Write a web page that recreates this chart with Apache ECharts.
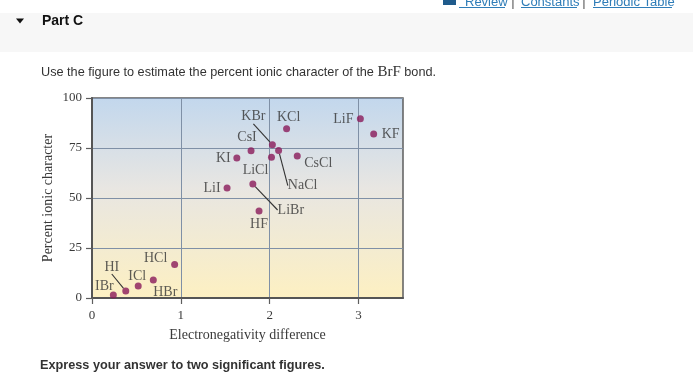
<!DOCTYPE html>
<html>
<head>
<meta charset="utf-8">
<script src="https://cdn.jsdelivr.net/npm/echarts@6/dist/echarts.min.js"></script>
<style>
html,body{margin:0;padding:0;background:#fff;}
#chart{width:700px;height:387px;}
</style>
</head>
<body>
<div id="chart"></div>
<script>
// ---- data ----
const compounds = ['IBr','HI','ICl','HBr','HCl','LiI','KI','CsI','LiBr','HF','LiCl','KBr','NaCl','KCl','CsCl','LiF','KF'];
const enDifference = [0.24,0.38,0.52,0.69,0.93,1.52,1.63,1.79,1.81,1.88,2.02,2.03,2.10,2.19,2.31,3.02,3.17];
const ionicCharacter = [1.5,3.5,6,9,16.7,55,70,73.6,57,43.5,70.4,76.6,73.7,84.6,71,89.6,82];
const xTicks = [0,1,2,3];
const yTicks = [0,25,50,75,100];

// ---- label placement (style) ----
const labelOffsets = {
  IBr:[-9,-9], HI:[-14,-24], ICl:[-1,-10], HBr:[12,12], HCl:[-19,-6],
  LiI:[-15,0], KI:[-13.5,0], CsI:[-4,-13], LiBr:[38,26], HF:[0,13],
  LiCl:[-16,13], KBr:[-19,-28], NaCl:[24,35], KCl:[2,-11], CsCl:[21,7],
  LiF:[-17,1], KF:[17,0]
};
const leaderLabels = ['HI','LiBr','KBr','NaCl'];

const serif = "'Liberation Serif','Times New Roman',serif";
const sans = "'Liberation Sans',Arial,Helvetica,sans-serif";

const seriesData = compounds.map((n,i)=>({
  name:n,
  value:[enDifference[i], ionicCharacter[i]],
  labelLine:{show: leaderLabels.indexOf(n) >= 0}
}));

const chart = echarts.init(document.getElementById('chart'), null, {renderer:'canvas'});
chart.setOption({
  animation:false,
  backgroundColor:'#ffffff',
  grid:{
    left:92, top:98, width:311, height:200,
    show:true,
    borderColor:'#5e5e5e', borderWidth:1.5,
    backgroundColor:{
      type:'linear', x:0, y:0, x2:0, y2:1,
      colorStops:[
        {offset:0, color:'#c2d7ed'},
        {offset:0.45, color:'#e8e6e2'},
        {offset:1, color:'#fdf0c2'}
      ]
    }
  },
  xAxis:{
    type:'value', min:0, max:3.5, interval:1,
    name:'Electronegativity difference',
    nameLocation:'middle', nameGap:30,
    nameTextStyle:{fontFamily:serif, fontSize:14, color:'#3a3a3a'},
    axisLine:{show:true, onZero:false, lineStyle:{color:'#555', width:2}},
    axisTick:{show:true, length:6, customValues:xTicks, lineStyle:{color:'#5e5e5e', width:1.2}},
    axisLabel:{customValues:xTicks, fontFamily:serif, fontSize:13, color:'#3a3a3a', margin:11},
    splitLine:{show:true, lineStyle:{color:'#7f90a6', width:1}}
  },
  yAxis:{
    type:'value', min:0, max:100, interval:25,
    name:'Percent ionic character',
    nameLocation:'middle', nameGap:37, nameRotate:90,
    nameTextStyle:{fontFamily:serif, fontSize:14, color:'#3a3a3a'},
    axisLine:{show:true, onZero:false, lineStyle:{color:'#555', width:2}},
    axisTick:{show:true, length:6, lineStyle:{color:'#5e5e5e', width:1.2}},
    axisLabel:{fontFamily:serif, fontSize:13, color:'#3a3a3a', margin:10},
    splitLine:{show:true, lineStyle:{color:'#7f90a6', width:1}}
  },
  series:[{
    type:'scatter',
    symbol:'circle',
    symbolSize:7,
    itemStyle:{color:'#8a1a5a'},
    data:seriesData,
    label:{
      show:true, position:'inside',
      formatter:p=>p.name,
      fontFamily:serif, fontSize:14, color:'#333'
    },
    labelLine:{show:false, lineStyle:{color:'#333', width:1.1}},
    labelLayout:function(p){
      const o = labelOffsets[compounds[p.dataIndex]] || [0,0];
      return {dx:o[0], dy:o[1]};
    }
  }],
  graphic:[
    // header band
    {type:'rect', shape:{x:0,y:13,width:693,height:39}, style:{fill:'#f7f7f7'}, silent:true},
    {type:'polygon', shape:{points:[[16,18.5],[24,18.5],[20,23.5]]}, style:{fill:'#111'}},
    {type:'text', x:42, y:21, style:{text:'Part C', font:'bold 14px '+sans, fill:'#111', verticalAlign:'middle'}},
    // top links
    {type:'rect', shape:{x:443,y:-1,width:13,height:6}, style:{fill:'#1f5b8c'}},
    {type:'text', x:465, y:9, style:{text:'Review', font:'13px '+sans, fill:'#2f7db8', verticalAlign:'bottom'}},
    {type:'line', shape:{x1:459,y1:7.5,x2:505,y2:7.5}, style:{stroke:'#2f7db8', lineWidth:1}},
    {type:'text', x:513, y:9, style:{text:'|', font:'13px '+sans, fill:'#555', align:'center', verticalAlign:'bottom'}},
    {type:'text', x:521, y:9, style:{text:'Constants', font:'13px '+sans, fill:'#2f7db8', verticalAlign:'bottom'}},
    {type:'line', shape:{x1:521,y1:7.5,x2:577,y2:7.5}, style:{stroke:'#2f7db8', lineWidth:1}},
    {type:'text', x:584, y:9, style:{text:'|', font:'13px '+sans, fill:'#555', align:'center', verticalAlign:'bottom'}},
    {type:'text', x:593, y:9, style:{text:'Periodic Table', font:'13px '+sans, fill:'#2f7db8', verticalAlign:'bottom'}},
    {type:'line', shape:{x1:593,y1:7.5,x2:672,y2:7.5}, style:{stroke:'#2f7db8', lineWidth:1}},
    // question text
    {type:'text', x:41, y:72, style:{
      text:'{a|Use the figure to estimate the percent ionic character of the }{m|BrF}{a| bond.}',
      verticalAlign:'middle',
      rich:{
        a:{fontFamily:sans, fontSize:12.7, fill:'#333'},
        m:{fontFamily:serif, fontSize:15, fill:'#333'}
      }
    }},
    {type:'text', x:40, y:365, style:{text:'Express your answer to two significant figures.', font:'bold 12.7px '+sans, fill:'#333', verticalAlign:'middle'}}
  ]
});
</script>
</body>
</html>
